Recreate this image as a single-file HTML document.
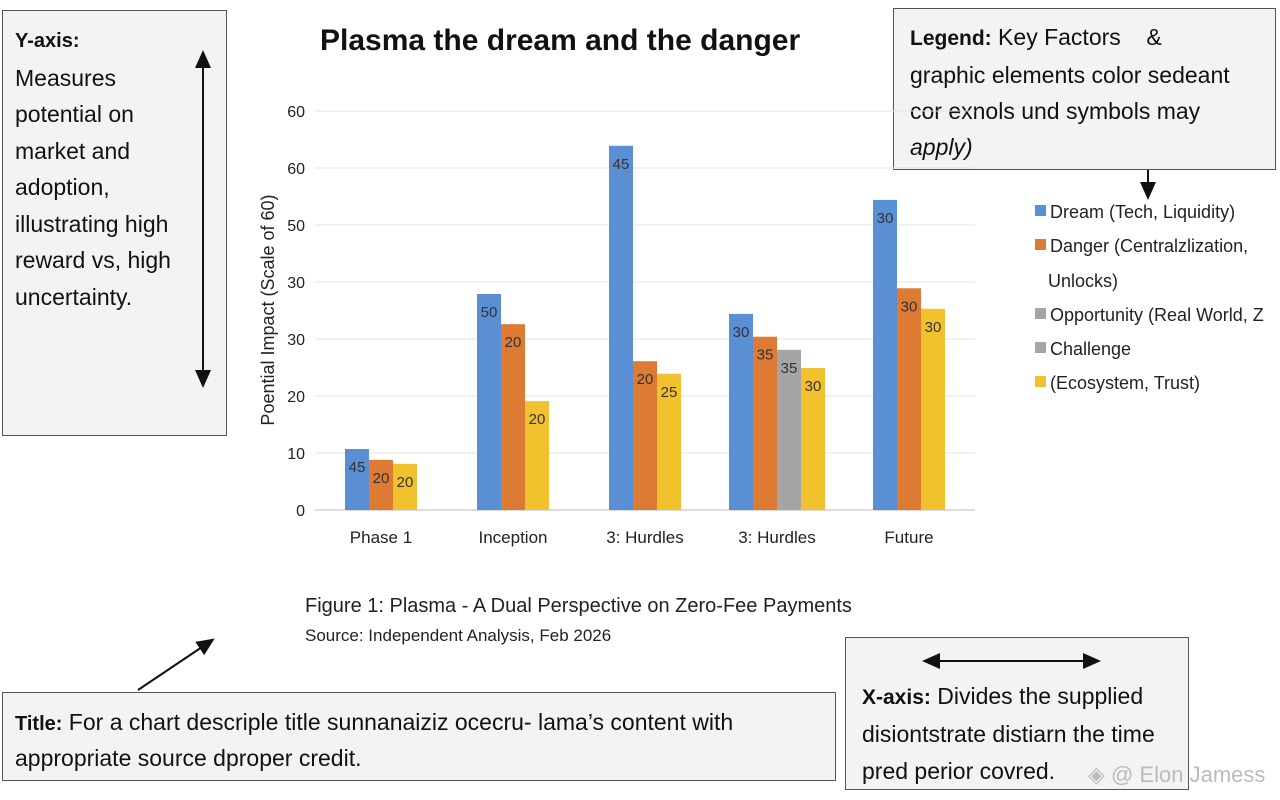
<!DOCTYPE html>
<html><head><meta charset="utf-8"><style>
body{margin:0;width:1280px;height:800px;background:#fff;overflow:hidden;font-family:"Liberation Sans",sans-serif;position:relative}
.box{position:absolute;background:#f3f3f3;border:1.5px solid #555;box-sizing:border-box;color:#111}
</style></head><body>
<div class="box" style="left:2px;top:10px;width:225px;height:426px;padding:10px 12px;font-size:23px;line-height:36.5px"><b style="font-size:20px">Y-axis:</b><br>Measures<br>potential on<br>market and<br>adoption,<br>illustrating high<br>reward vs, high<br>uncertainty.</div>
<div class="box" style="left:893px;top:8px;width:383px;height:162px;padding:10px 16px;font-size:23px;line-height:36px"><b style="font-size:21px">Legend:</b> Key Factors &nbsp;&nbsp; &amp;<br>graphic elements color sedeant<br>cor exnols und symbols may<br><i>apply)</i></div>
<div class="box" style="left:2px;top:692px;width:834px;height:89px;padding:12px 12px;font-size:23px;line-height:34px"><b style="font-size:20px">Title:</b> For a chart descriple title sunnanaiziz ocecru- lama’s content with<br>appropriate source dproper credit.</div>
<div class="box" style="left:845px;top:637px;width:344px;height:153px;padding:40px 16px;font-size:23px;line-height:37px"><b style="font-size:21px">X-axis:</b> Divides the supplied<br>disiontstrate distiarn the time<br>pred perior covred.</div>
<div style="position:absolute;left:1088px;top:762px;font-size:22px;color:#bbb">◈ @ Elon Jamess</div>
<div style="position:absolute;left:320px;top:24px;font-size:30px;font-weight:bold;color:#111">Plasma the dream and the danger</div>
<div style="position:absolute;left:305px;top:595px;font-size:20px;color:#222">Figure 1: Plasma - A Dual Perspective on Zero-Fee Payments</div>
<div style="position:absolute;left:305px;top:626px;font-size:17px;color:#222">Source: Independent Analysis, Feb 2026</div>
<svg id="chart" width="1280" height="800" style="position:absolute;left:0;top:0">
<defs><marker id="ah" markerWidth="10" markerHeight="10" refX="5" refY="5" orient="auto-start-reverse"><path d="M0,1 L9,5 L0,9z" fill="#111"/></marker></defs>
<line x1="203" y1="58" x2="203" y2="380" stroke="#111" stroke-width="2" marker-start="url(#ah)" marker-end="url(#ah)"/>
<line x1="1148" y1="170" x2="1148" y2="192" stroke="#111" stroke-width="2" marker-end="url(#ah)"/>
<line x1="930" y1="661" x2="1093" y2="661" stroke="#111" stroke-width="2" marker-start="url(#ah)" marker-end="url(#ah)"/>
<line x1="138" y1="690" x2="208" y2="643" stroke="#111" stroke-width="2" marker-end="url(#ah)"/>
</svg>
<script>
const categories=["Phase 1","Inception","3: Hurdles","3: Hurdles","Future"];
const dream=[10.7,37.9,63.9,34.4,54.4];
const danger=[8.8,32.6,26.1,30.4,38.9];
const opportunity=[null,null,null,28.1,null];
const ecosystem=[8.1,19.1,23.9,24.9,35.3];
const dreamLabels=["45","50","45","30","30"];
const dangerLabels=["20","20","20","35","30"];
const oppLabels=["","","","35",""];
const ecoLabels=["20","20","25","30","30"];
const tickLabels=["0","10","20","30","30","50","60","60"];
const legendNames=["Dream (Tech, Liquidity)","Danger (Centralzlization,","Opportunity (Real World, Z","Challenge","(Ecosystem, Trust)"];
const svg=document.getElementById('chart');const NS="http://www.w3.org/2000/svg";
const x0=315,x1=975,y0=510,yMax=70,pxPer=57/10;
const y=v=>y0-v*pxPer;
const cx=i=>x0+(i+0.5)*(x1-x0)/categories.length;
function mk(t,a,txt){const e=document.createElementNS(NS,t);for(const k in a)e.setAttribute(k,a[k]);if(txt!==undefined)e.textContent=txt;svg.appendChild(e);return e;}
tickLabels.forEach((l,i)=>{const g=mk('line',{x1:x0,x2:x1,y1:y(i*10),y2:y(i*10),stroke:i?'#e3e3e3':'#bbb'});


const t=mk('text',{x:305,y:y(i*10)+6,'text-anchor':'end','font-size':16,fill:'#222'},l);

});
const yt=mk('text',{x:274,y:310,'text-anchor':'middle','font-size':18,fill:'#222',transform:'rotate(-90 274 310)'},'Poential Impact (Scale of 60)');


const series=[[dream,'#5b8fd4',dreamLabels],[danger,'#dd7b35',dangerLabels],[opportunity,'#a5a5a5',oppLabels],[ecosystem,'#f2c12e',ecoLabels]];
const bw=24;
categories.forEach((c,i)=>{const present=series.filter(s=>s[0][i]!=null);let sx=cx(i)-present.length*bw/2;
present.forEach(s=>{const v=s[0][i];const r=mk('rect',{x:sx,y:y(v),width:bw,height:v*pxPer,fill:s[1]});


const t=mk('text',{x:sx+bw/2,y:y(v)+23,'text-anchor':'middle','font-size':15,fill:'#333'},s[2][i]);


sx+=bw;});
const xl=mk('text',{x:cx(i),y:543,'text-anchor':'middle','font-size':17,fill:'#222'},c);

});
const lc=['#5b8fd4','#dd7b35','#a5a5a5','#a5a5a5','#f2c12e'];const ly=[218,252,321,355,389];
legendNames.forEach((n,i)=>{const r=mk('rect',{x:1035,y:ly[i]-13,width:11,height:11,fill:lc[i]});


const t=mk('text',{x:1050,y:ly[i],'font-size':18,fill:'#222'},n);

});
const u=mk('text',{x:1048,y:287,'font-size':18,fill:'#222'},'Unlocks)');


</script>
</body></html>
